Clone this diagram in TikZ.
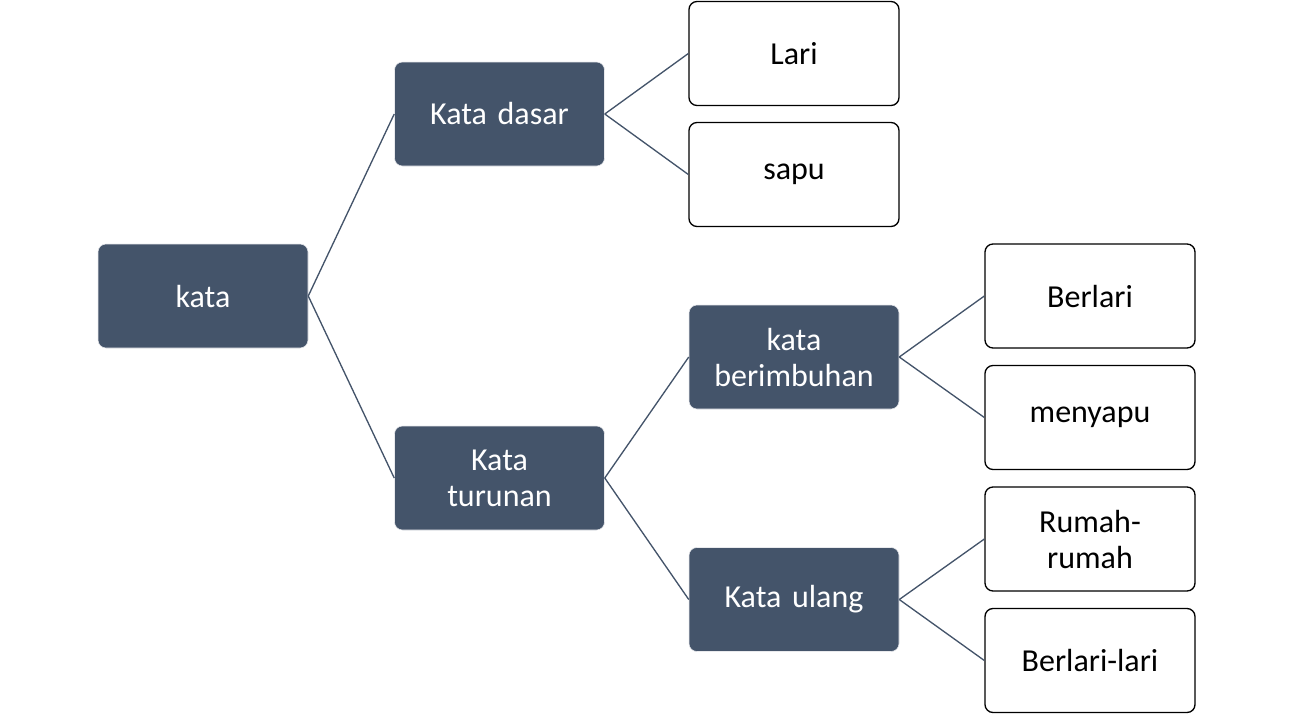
\documentclass[tikz,border=0pt]{standalone}
\usepackage{fontspec}
\setmainfont{Carlito}
\definecolor{slate}{HTML}{44546A}
\begin{document}
\begin{tikzpicture}[x=0.75pt,y=-0.75pt,
  base/.style={rounded corners=6pt,minimum width=157.5pt,minimum height=78pt,align=center,font=\fontsize{24}{27}\selectfont,inner sep=2pt,text width=150pt},
  dark/.style={base,fill=slate,draw=white!88!slate,text=white},
  light/.style={base,fill=white,draw=black,line width=1pt},
  conn/.style={draw=slate,line width=1pt}]
\useasboundingbox (0,0) rectangle (1294,715);
\node[dark] (kata) at (203,296) {kata};
\node[dark] (dasar) at (499.5,114) {Kata dasar};
\node[dark] (turunan) at (499.5,478) {Kata\\turunan};
\node[light] (lari) at (794,53.5) {Lari};
\node[light] (sapu) at (794,174.5) {sapu};
\node[dark] (imbuh) at (794,357) {kata\\berimbuhan};
\node[dark] (ulang) at (794,599.5) {Kata ulang};
\node[light] (berlari) at (1090,296) {Berlari};
\node[light] (menyapu) at (1090,417.5) {menyapu};
\node[light] (rumah) at (1090,539) {Rumah-\\rumah};
\node[light] (berlari2) at (1090,660.5) {Berlari-lari};
\foreach \a/\b in {kata/dasar,kata/turunan,dasar/lari,dasar/sapu,turunan/imbuh,turunan/ulang,imbuh/berlari,imbuh/menyapu,ulang/rumah,ulang/berlari2}
  \draw[conn] (\a.east) -- (\b.west);
\end{tikzpicture}
\end{document}
